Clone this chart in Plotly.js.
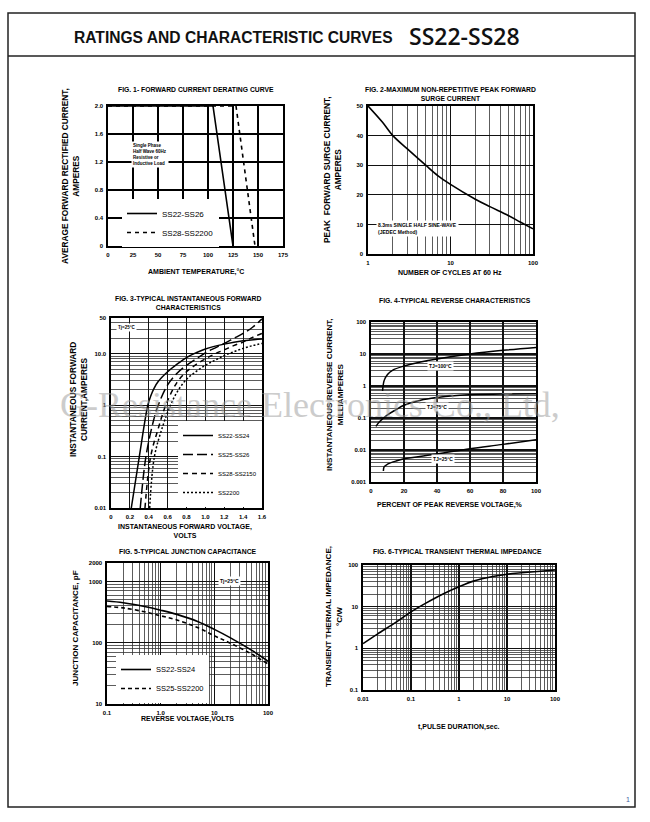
<!DOCTYPE html>
<html><head><meta charset="utf-8">
<script src="https://cdn.plot.ly/plotly-3.0.1.min.js"></script>
<style>html,body{margin:0;padding:0;background:#fff;}#chart{width:650px;height:822px;}</style>
</head><body><div id="chart"></div>
<script>
// ---------- DATA ----------
// Fig 1 - forward current derating
const fig1TempA = [0, 105, 125];
const fig1CurrA = [2.0, 2.0, 0];
const fig1TempB = [0, 128, 147];
const fig1CurrB = [2.0, 2.0, 0];
const fig1XTicks = [0, 25, 50, 75, 100, 125, 150, 175];
const fig1YTicks = [0, 0.4, 0.8, 1.2, 1.6, 2.0];
const fig1YTickText = ["0", "0.4", "0.8", "1.2", "1.6", "2.0"];
const fig1Names = ["SS22-SS26", "SS28-SS2200"];

// Fig 2 - surge current
const fig2Cycles = [1, 1.5, 2, 3, 5, 7, 10, 20, 30, 50, 70, 100];
const fig2Amps = [50, 44.5, 40, 35.5, 30, 26.5, 23.5, 18.5, 16, 13, 10.8, 8.5];
const fig2XTicks = [1, 10, 100];
const fig2YTicks = [0, 10, 20, 30, 40, 50];

// Fig 3 - forward characteristics
const fig3VA = [0.215, 0.30, 0.39, 0.42, 0.46, 0.5, 0.6, 0.7, 0.8, 0.9, 1.0, 1.2, 1.4, 1.6];
const fig3IA = [0.01, 0.1, 1, 1.5, 2.2, 2.9, 4.5, 6.3, 8.5, 10.5, 12.5, 15.5, 18, 19.5];
const fig3VB = [0.31, 0.37, 0.45, 0.5, 0.6, 0.7, 0.8, 0.9, 1.0, 1.1, 1.2, 1.3, 1.4, 1.5, 1.6];
const fig3IB = [0.01, 0.1, 0.5, 1, 2.5, 4.2, 6, 8, 10.5, 13, 16, 20, 25, 33, 48];
const fig3VC = [0.36, 0.42, 0.5, 0.58, 0.7, 0.8, 0.9, 1.0, 1.1, 1.2, 1.3, 1.4, 1.5, 1.6];
const fig3IC = [0.01, 0.1, 0.35, 1, 2.8, 4.5, 6.2, 8, 10, 12, 14.5, 17, 21, 25];
const fig3VD = [0.41, 0.46, 0.55, 0.63, 0.7, 0.8, 0.9, 1.0, 1.1, 1.2, 1.3, 1.4, 1.5, 1.6];
const fig3ID = [0.01, 0.1, 0.4, 1, 1.8, 3.2, 4.5, 6, 7.5, 9.3, 11, 12.8, 14.5, 16];
const fig3Names = ["SS22-SS24", "SS25-SS26", "SS28-SS2150", "SS2200"];
const fig3XTicks = [0, 0.2, 0.4, 0.6, 0.8, 1.0, 1.2, 1.4, 1.6];
const fig3XTickText = ["0", "0.2", "0.4", "0.6", "0.8", "1.0", "1.2", "1.4", "1.6"];
const fig3YTicks = [0.01, 0.1, 1, 10, 50];
const fig3YTickText = ["0.01", "0.1", "1", "10.0", "50"];

// Fig 4 - reverse characteristics
const fig4P100 = [7, 8, 10, 13, 20, 30, 40, 60, 80, 100];
const fig4I100 = [0.7, 1.5, 2.3, 3.1, 4.2, 5.6, 7, 10, 13, 16];
const fig4P75 = [3, 5, 10, 15, 20, 30, 40, 50, 60, 80, 100];
const fig4I75 = [0.055, 0.075, 0.125, 0.18, 0.25, 0.36, 0.44, 0.5, 0.53, 0.56, 0.57];
const fig4P25 = [7.5, 8, 10, 15, 20, 40, 60, 80, 100];
const fig4I25 = [0.0022, 0.003, 0.0036, 0.0045, 0.0053, 0.0075, 0.011, 0.015, 0.021];
const fig4Labels = ["TJ=100°C", "TJ=75°C", "TJ=25°C"];
const fig4XTicks = [0, 20, 40, 60, 80, 100];
const fig4YTicks = [0.001, 0.01, 0.1, 1, 10, 100];
const fig4YTickText = ["0.001", "0.01", "0.1", "1", "10", "100"];

// Fig 5 - junction capacitance
const fig5V = [0.1, 0.2, 0.5, 1, 2, 5, 10, 20, 50, 100];
const fig5CA = [480, 450, 390, 340, 290, 220, 165, 120, 75, 50];
const fig5CB = [390, 370, 320, 275, 235, 175, 130, 98, 65, 45];
const fig5Names = ["SS22-SS24", "SS25-SS2200"];
const fig5XTicks = [0.1, 1, 10, 100];
const fig5XTickText = ["0.1", "1.0", "10", "100"];
const fig5YTicks = [10, 100, 1000, 2000];
const fig5YTickText = ["10", "100", "1000", "2000"];

// Fig 6 - transient thermal impedance
const fig6T = [0.01, 0.02, 0.05, 0.1, 0.2, 0.5, 1, 2, 5, 10, 20, 50, 100];
const fig6Z = [1.3, 2.2, 4.3, 7.5, 12, 21, 30, 41, 53, 60, 65, 71, 76];
const fig6XTicks = [0.01, 0.1, 1, 10, 100];
const fig6XTickText = ["0.01", "0.1", "1", "10", "100"];
const fig6YTicks = [0.1, 1, 10, 100];
const fig6YTickText = ["0.1", "1", "10", "100"];

// ---------- LAYOUT HELPERS ----------
const W = 650, H = 822;
const PX = p => p / W;
const PY = p => 1 - p / H;
const FONT = "Liberation Sans, Arial, sans-serif";
const tickFont = {family: FONT, size: 6, color: "#000", weight: "bold"};

function logMinor(lo, hi) {
  const v = [];
  for (let e = Math.floor(Math.log10(lo)); e <= Math.ceil(Math.log10(hi)); e++) {
    for (let m = 2; m <= 9; m++) {
      const t = +(m * Math.pow(10, e)).toPrecision(3);
      if (t > lo && t < hi) v.push(t);
    }
  }
  return v;
}

function axis(x0, x1, isX, extra) {
  const d = isX ? [PX(x0), PX(x1)] : [PY(x1), PY(x0)];
  return Object.assign({
    domain: d, showline: true, mirror: true, linecolor: "#000", linewidth: 1.6,
    showgrid: true, gridcolor: "#111", gridwidth: 1.1, zeroline: false,
    ticks: "", tickfont: tickFont, fixedrange: true, ticklabelstandoff: 2
  }, extra);
}
function minorGrid(vals) {
  return {tickmode: "array", tickvals: vals, showgrid: true, gridcolor: "#333", gridwidth: 0.8, ticks: ""};
}

const traces = [
  // fig1
  {x: fig1TempA, y: fig1CurrA, xaxis: "x", yaxis: "y", mode: "lines", name: fig1Names[0], legend: "legend", line: {color: "#000", width: 1.6}},
  {x: fig1TempB, y: fig1CurrB, xaxis: "x", yaxis: "y", mode: "lines", name: fig1Names[1], legend: "legend", line: {color: "#000", width: 1.6, dash: "4px,4px"}},
  // fig2
  {x: fig2Cycles, y: fig2Amps, xaxis: "x2", yaxis: "y2", mode: "lines", showlegend: false, line: {color: "#000", width: 1.6, shape: "spline"}},
  // fig3
  {x: fig3VA, y: fig3IA, xaxis: "x3", yaxis: "y3", mode: "lines", name: fig3Names[0], legend: "legend2", line: {color: "#000", width: 1.5, shape: "spline"}},
  {x: fig3VB, y: fig3IB, xaxis: "x3", yaxis: "y3", mode: "lines", name: fig3Names[1], legend: "legend2", line: {color: "#000", width: 1.5, shape: "spline", dash: "10px,4px"}},
  {x: fig3VC, y: fig3IC, xaxis: "x3", yaxis: "y3", mode: "lines", name: fig3Names[2], legend: "legend2", line: {color: "#000", width: 1.5, shape: "spline", dash: "5px,4px"}},
  {x: fig3VD, y: fig3ID, xaxis: "x3", yaxis: "y3", mode: "lines", name: fig3Names[3], legend: "legend2", line: {color: "#000", width: 1.5, shape: "spline", dash: "2px,2px"}},
  // fig4
  {x: fig4P100, y: fig4I100, xaxis: "x4", yaxis: "y4", mode: "lines", showlegend: false, line: {color: "#000", width: 1.5, shape: "spline"}},
  {x: fig4P75, y: fig4I75, xaxis: "x4", yaxis: "y4", mode: "lines", showlegend: false, line: {color: "#000", width: 1.5, shape: "spline"}},
  {x: fig4P25, y: fig4I25, xaxis: "x4", yaxis: "y4", mode: "lines", showlegend: false, line: {color: "#000", width: 1.5, shape: "spline"}},
  // fig5
  {x: fig5V, y: fig5CA, xaxis: "x5", yaxis: "y5", mode: "lines", name: fig5Names[0], legend: "legend3", line: {color: "#000", width: 1.6, shape: "spline"}},
  {x: fig5V, y: fig5CB, xaxis: "x5", yaxis: "y5", mode: "lines", name: fig5Names[1], legend: "legend3", line: {color: "#000", width: 1.6, shape: "spline", dash: "4px,3px"}},
  // fig6
  {x: fig6T, y: fig6Z, xaxis: "x6", yaxis: "y6", mode: "lines", showlegend: false, line: {color: "#000", width: 1.6, shape: "spline"}}
];

function ann(text, x, y, size, extra) {
  return Object.assign({text: text, xref: "paper", yref: "paper", x: PX(x), y: PY(y), showarrow: false,
    font: {family: FONT, size: size, color: "#000", weight: "bold"}, xanchor: "center", yanchor: "middle"}, extra || {});
}

const annotations = [
  // header
  ann("RATINGS AND CHARACTERISTIC CURVES", 395, 37, 15.6, {xanchor: "right", font: {family: FONT, size: 15.6, color: "#111", weight: "bold"}}),
  ann("SS22-SS28", 407, 36, 23, {xanchor: "left", font: {family: "Open Sans, sans-serif", size: 23, color: "#111", weight: 600}}),
  // fig titles
  ann("FIG. 1- FORWARD CURRENT DERATING CURVE", 196, 90, 6.8),
  ann("FIG. 2-MAXIMUM NON-REPETITIVE PEAK FORWARD<br>SURGE CURRENT", 450, 94, 6.8),
  ann("FIG. 3-TYPICAL INSTANTANEOUS FORWARD<br>CHARACTERISTICS", 188, 303, 6.8),
  ann("FIG. 4-TYPICAL REVERSE CHARACTERISTICS", 455, 300, 6.8),
  ann("FIG. 5-TYPICAL JUNCTION CAPACITANCE", 188, 551, 6.8),
  ann("FIG. 6-TYPICAL TRANSIENT THERMAL IMPEDANCE", 457, 551, 6.8),
  // y titles
  ann("AVERAGE FORWARD RECTIFIED CURRENT,<br>AMPERES", 71, 176, 8.3, {textangle: -90}),
  ann("PEAK  FORWARD SURGE CURRENT,<br>AMPERES", 333, 170, 8.3, {textangle: -90}),
  ann("INSTANTANEOUS FORWARD<br>CURRENT,AMPERES", 78, 400, 8.3, {textangle: -90}),
  ann("INSTANTANEOUS REVERSE CURRENT,<br>MILLIAMPERES", 335, 394, 8.1, {textangle: -90}),
  ann("JUNCTION CAPACITANCE, pF", 75, 628, 8.1, {textangle: -90}),
  ann("TRANSIENT THERMAL IMPEDANCE,<br>°C/W", 334, 617, 8.1, {textangle: -90}),
  // x titles
  ann("AMBIENT TEMPERATURE,°C", 196, 272, 7),
  ann("NUMBER OF CYCLES AT 60 Hz", 450, 272, 7),
  ann("INSTANTANEOUS FORWARD VOLTAGE,<br>VOLTS", 185, 531, 7),
  ann("PERCENT OF PEAK REVERSE VOLTAGE,%", 450, 505, 7),
  ann("REVERSE VOLTAGE,VOLTS", 187, 719, 7),
  ann("t,PULSE DURATION,sec.", 459, 727, 7),
  // in-plot notes
  ann("Single Phase<br>Half Wave 60Hz<br>Resistive or<br>Inductive Load", 131, 155, 4.5, {xanchor: "left", align: "left", bgcolor: "#fff"}),
  ann("8.3ms SINGLE HALF SINE-WAVE<br>(JEDEC Method)", 376, 228, 5, {xanchor: "left", align: "left", bgcolor: "#fff"}),
  ann("Tj=25°C", 116, 328, 4.5, {xanchor: "left", bgcolor: "#fff"}),
  ann(fig4Labels[0], 440, 366, 5, {bgcolor: "#fff"}),
  ann(fig4Labels[1], 437, 407, 5, {bgcolor: "#fff"}),
  ann(fig4Labels[2], 443, 459, 5, {bgcolor: "#fff"}),
  ann("Tj=25°C", 229, 581, 5, {bgcolor: "#fff"}),
  // watermark
  ann("G-Resistance Electronics Co., Ltd,", 310, 405, 36, {font: {family: "Liberation Serif, Times New Roman, serif", size: 36, color: "#9a9a9a"}, opacity: 0.5}),
  // page number
  ann("1", 628, 799, 7, {font: {family: FONT, size: 7, color: "#4060a0"}})
];

const layout = {
  width: W, height: H, margin: {l: 0, r: 0, t: 0, b: 0},
  paper_bgcolor: "#fff", plot_bgcolor: "#fff", showlegend: true,
  font: {family: FONT, color: "#000"},
  // fig1
  xaxis: axis(108, 283, true, {anchor: "y", range: [0, 175], tickmode: "array", tickvals: fig1XTicks, gridwidth: 1.5, gridcolor: "#000"}),
  yaxis: axis(106, 246, false, {anchor: "x", range: [0, 2.0], tickmode: "array", tickvals: fig1YTicks, ticktext: fig1YTickText, gridwidth: 1.5, gridcolor: "#000"}),
  // fig2
  xaxis2: axis(368, 533, true, {anchor: "y2", type: "log", range: [0, 2], tickmode: "array", tickvals: fig2XTicks, minor: minorGrid(logMinor(1, 100))}),
  yaxis2: axis(106, 254, false, {anchor: "x2", range: [0, 50], tickmode: "array", tickvals: fig2YTicks}),
  // fig3
  xaxis3: axis(111, 262, true, {anchor: "y3", range: [0, 1.6], tickmode: "array", tickvals: fig3XTicks, ticktext: fig3XTickText}),
  yaxis3: axis(318, 508, false, {anchor: "x3", type: "log", range: [-2, Math.log10(50)], tickmode: "array", tickvals: fig3YTicks, ticktext: fig3YTickText, minor: minorGrid(logMinor(0.01, 50))}),
  // fig4
  xaxis4: axis(371, 536, true, {anchor: "y4", range: [0, 100], tickmode: "array", tickvals: fig4XTicks}),
  yaxis4: axis(322, 482, false, {anchor: "x4", type: "log", range: [-3, 2], tickmode: "array", tickvals: fig4YTicks, ticktext: fig4YTickText, minor: minorGrid(logMinor(0.001, 100))}),
  // fig5
  xaxis5: axis(107, 268, true, {anchor: "y5", type: "log", range: [-1, 2], tickmode: "array", tickvals: fig5XTicks, ticktext: fig5XTickText, minor: minorGrid(logMinor(0.1, 100))}),
  yaxis5: axis(563, 704, false, {anchor: "x5", type: "log", range: [1, Math.log10(2000)], tickmode: "array", tickvals: fig5YTicks, ticktext: fig5YTickText, minor: minorGrid(logMinor(10, 2000))}),
  // fig6
  xaxis6: axis(363, 555, true, {anchor: "y6", type: "log", range: [-2, 2], tickmode: "array", tickvals: fig6XTicks, ticktext: fig6XTickText, minor: minorGrid(logMinor(0.01, 100))}),
  yaxis6: axis(565, 690, false, {anchor: "x6", type: "log", range: [-1, 2], tickmode: "array", tickvals: fig6YTicks, ticktext: fig6YTickText, minor: minorGrid(logMinor(0.1, 100))}),
  legend: {x: PX(122), y: PY(199), xanchor: "left", yanchor: "top", bgcolor: "#fff", borderwidth: 0,
    font: {family: FONT, size: 8, color: "#000"}, itemwidth: 30, tracegroupgap: 0},
  legend2: {x: PX(262), y: PY(507), xanchor: "right", yanchor: "bottom", bgcolor: "#fff", borderwidth: 0,
    font: {family: FONT, size: 6, color: "#000"}, itemwidth: 30, tracegroupgap: 0},
  legend3: {x: PX(116), y: PY(703), xanchor: "left", yanchor: "bottom", bgcolor: "#fff", borderwidth: 0,
    font: {family: FONT, size: 7.5, color: "#000"}, itemwidth: 30, tracegroupgap: 0},
  annotations: annotations,
  shapes: [
    {type: "rect", xref: "paper", yref: "paper", x0: PX(8), x1: PX(635), y0: PY(807), y1: PY(13), line: {color: "#222", width: 1.5}},
    {type: "line", xref: "paper", yref: "paper", x0: PX(8), x1: PX(635), y0: PY(56), y1: PY(56), line: {color: "#222", width: 1.5}}
  ]
};

Plotly.newPlot("chart", traces, layout, {displayModeBar: false, staticPlot: true});
</script>
</body></html>
